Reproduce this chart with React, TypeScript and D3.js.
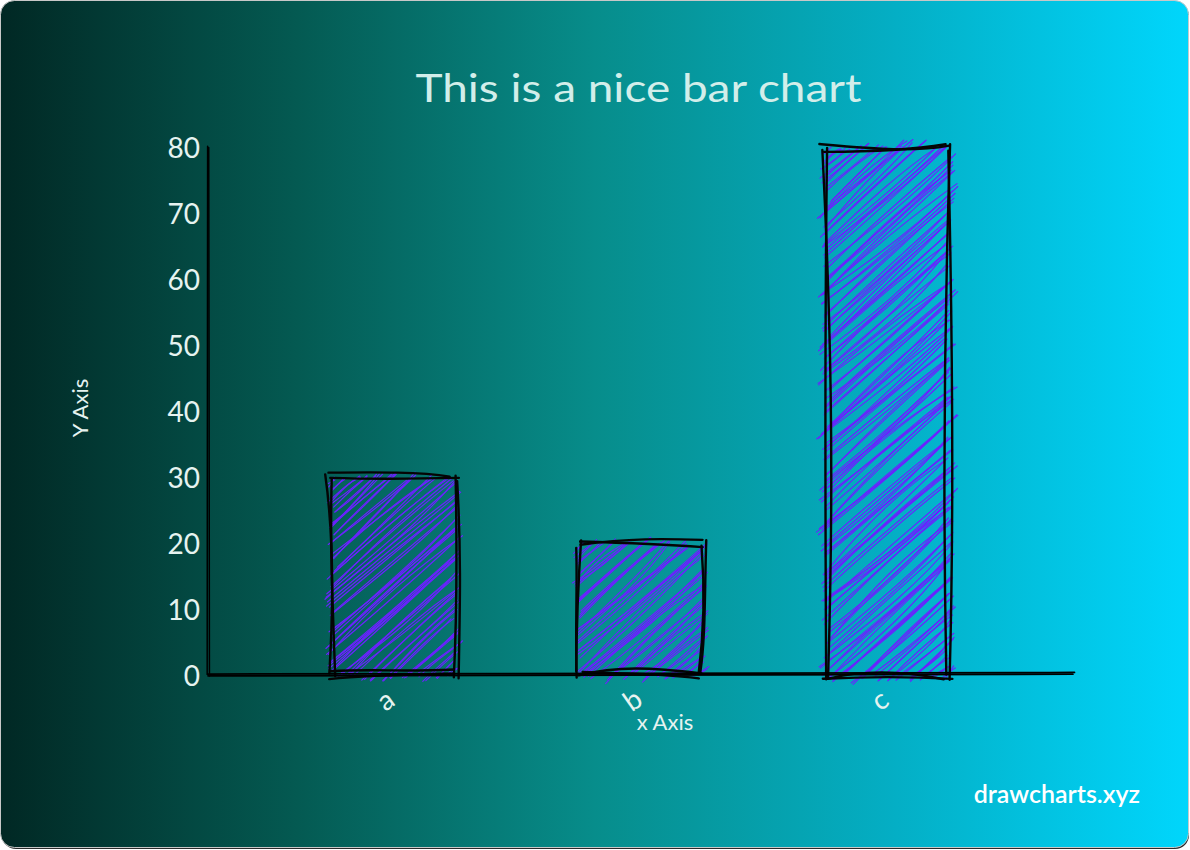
import React, { useMemo } from "react";
import * as d3 from "d3";

const categories = ["a", "b", "c"];
const values = [30, 20, 80];
const yTicks = [0, 10, 20, 30, 40, 50, 60, 70, 80];
const yDomain = [0, 80];
const title = "This is a nice bar chart";
const xLabel = "x Axis";
const yLabel = "Y Axis";
const watermark = "drawcharts.xyz";

const W = 1190;
const H = 850;
const plot = { left: 208, right: 1073, top: 148, bottom: 676 };
const FONT = "Lato, 'Open Sans', sans-serif";

function mulberry32(seed: number) {
  let a = seed;
  return function () {
    a |= 0;
    a = (a + 0x6d2b79f5) | 0;
    let t = Math.imul(a ^ (a >>> 15), 1 | a);
    t = (t + Math.imul(t ^ (t >>> 7), 61 | t)) ^ t;
    return ((t ^ (t >>> 14)) >>> 0) / 4294967296;
  };
}

function roughPass(
  x1: number, y1: number, x2: number, y2: number,
  rnd: () => number, off: number, bow: number
) {
  const j = () => (rnd() * 2 - 1) * off;
  const dx = x2 - x1, dy = y2 - y1;
  const len = Math.hypot(dx, dy) || 1;
  const nx = -dy / len, ny = dx / len;
  const b = (rnd() * 2 - 1) * bow;
  const sx = x1 + j(), sy = y1 + j();
  const ex = x2 + j(), ey = y2 + j();
  const c1x = x1 + dx * 0.4 + nx * b + j() * 0.4;
  const c1y = y1 + dy * 0.4 + ny * b + j() * 0.4;
  const c2x = x1 + dx * 0.7 + nx * b + j() * 0.4;
  const c2y = y1 + dy * 0.7 + ny * b + j() * 0.4;
  return `M${sx.toFixed(2)},${sy.toFixed(2)} C${c1x.toFixed(2)},${c1y.toFixed(2)} ${c2x.toFixed(2)},${c2y.toFixed(2)} ${ex.toFixed(2)},${ey.toFixed(2)}`;
}

function roughLine(
  x1: number, y1: number, x2: number, y2: number,
  rnd: () => number, off = 2, bowFrac = 0.01
) {
  const len = Math.hypot(x2 - x1, y2 - y1);
  const bow = Math.min(len * bowFrac, 12);
  return [
    roughPass(x1, y1, x2, y2, rnd, off, bow),
    roughPass(x1, y1, x2, y2, rnd, off * 1.7, bow * 1.5),
  ];
}

function hachure(
  x0: number, y0: number, x1: number, y1: number,
  rnd: () => number, gap: number, angleDeg: number
) {
  const t = (angleDeg * Math.PI) / 180;
  const nx = Math.sin(t), ny = Math.cos(t);
  const corners = [[x0, y0], [x1, y0], [x0, y1], [x1, y1]];
  const cs = corners.map(([x, y]) => nx * x + ny * y);
  const cmin = Math.min(...cs), cmax = Math.max(...cs);
  const paths: string[] = [];
  for (let c = cmin + gap / 2; c < cmax; c += gap) {
    const pts: number[][] = [];
    for (const X of [x0, x1]) {
      const y = (c - nx * X) / ny;
      if (y >= y0 - 1e-6 && y <= y1 + 1e-6) pts.push([X, y]);
    }
    for (const Y of [y0, y1]) {
      const x = (c - ny * Y) / nx;
      if (x >= x0 - 1e-6 && x <= x1 + 1e-6) pts.push([x, Y]);
    }
    if (pts.length < 2) continue;
    pts.sort((p, q) => p[0] - q[0]);
    const a = pts[0], b = pts[pts.length - 1];
    const L = Math.hypot(b[0] - a[0], b[1] - a[1]);
    if (L < 2) continue;
    const ext = () => (rnd() * 2 - 0.6) * 5;
    const dirx = Math.cos(t), diry = -Math.sin(t);
    const e1 = ext(), e2 = ext();
    const p1 = (rnd() * 2 - 1) * Math.min(5, L * 0.06);
    const p2 = (rnd() * 2 - 1) * Math.min(5, L * 0.06);
    const ax = a[0] - dirx * e1 + nx * p1, ay = a[1] - diry * e1 + ny * p1;
    const bx = b[0] + dirx * e2 + nx * p2, by = b[1] + diry * e2 + ny * p2;
    paths.push(...roughLine(ax, ay, bx, by, rnd, 1.8, 0.03));
  }
  return paths;
}

export default function App() {
  const x = d3.scaleBand<string>()
    .domain(categories)
    .range([plot.left, plot.right])
    .paddingInner(0.5)
    .paddingOuter(0.5);
  const y = d3.scaleLinear().domain(yDomain).range([plot.bottom, plot.top]);

  const drawn = useMemo(() => {
    const rnd = mulberry32(777);
    const bars = categories.map((cat, i) => {
      const bx0 = x(cat)!;
      const bx1 = bx0 + x.bandwidth();
      const by0 = y(values[i]);
      const by1 = y(0);
      const fill = hachure(bx0, by0, bx1, by1, rnd, 6, 41);
      const outline = [
        ...roughLine(bx0, by0, bx1, by0, rnd, 4, 0.03),
        ...roughLine(bx1, by0, bx1, by1, rnd, 4, 0.015),
        ...roughLine(bx1, by1, bx0, by1, rnd, 4, 0.05),
        ...roughLine(bx0, by1, bx0, by0, rnd, 4, 0.015),
      ];
      return { fill, outline };
    });
    const yAxis = roughLine(plot.left, y(yDomain[1]), plot.left + 1, y(0), rnd, 1.2, 0.002);
    const xAxis = roughLine(plot.left, y(0), plot.right, y(0) - 1.5, rnd, 1.2, 0.002);
    return { bars, yAxis, xAxis };
  }, []);

  return (
    <div style={{ width: W, height: H }}>
      <style>{`body{margin:0;background:#fff;}`}</style>
      <svg width={W} height={H} viewBox={`0 0 ${W} ${H}`} style={{ display: "block" }}>
        <defs>
          <linearGradient id="bg" x1="0" y1="0" x2="1" y2="0">
            <stop offset="0%" stopColor="#012824" />
            <stop offset="25%" stopColor="#045a52" />
            <stop offset="50%" stopColor="#078d8b" />
            <stop offset="75%" stopColor="#04aec4" />
            <stop offset="100%" stopColor="#00d6fc" />
          </linearGradient>
        </defs>
        <rect x={2} y={3} width={W - 3} height={H - 4} rx={14} fill="#2a2a2a" />
        <rect x={0.5} y={0.5} width={W - 2} height={H - 3} rx={14} fill="url(#bg)" stroke="#c8c8c8" strokeWidth={1} />

        <text
          x={(plot.left + plot.right) / 2 - 2}
          y={102}
          textAnchor="middle"
          fill="#d2eeea"
          fontFamily={FONT}
          fontSize={38}
          textLength={446}
          lengthAdjust="spacingAndGlyphs"
        >
          {title}
        </text>

        {/* bars */}
        {drawn.bars.map((b, i) => (
          <g key={categories[i]}>
            {b.fill.map((d, k) => (
              <path key={k} d={d} fill="none" stroke="#6a22ff" strokeWidth={1.15} strokeLinecap="round" />
            ))}
            {b.outline.map((d, k) => (
              <path key={k} d={d} fill="none" stroke="#050505" strokeWidth={2.4} strokeLinecap="round" />
            ))}
          </g>
        ))}

        {/* axes */}
        {drawn.yAxis.map((d, k) => (
          <path key={"y" + k} d={d} fill="none" stroke="#000" strokeWidth={1.5} strokeLinecap="round" />
        ))}
        {drawn.xAxis.map((d, k) => (
          <path key={"x" + k} d={d} fill="none" stroke="#000" strokeWidth={1.8} strokeLinecap="round" />
        ))}

        {/* y ticks */}
        {yTicks.map((t) => (
          <text
            key={t}
            x={200}
            y={y(t)}
            dy="0.36em"
            textAnchor="end"
            fill="#e6f3f0"
            fontFamily={FONT}
            fontSize={28}
          >
            {t}
          </text>
        ))}

        {/* x ticks */}
        {categories.map((c) => {
          const cx = x(c)! + x.bandwidth() / 2 - 8;
          const cy = y(0) + 24;
          return (
            <text
              key={c}
              x={cx}
              y={cy}
              transform={`rotate(-35 ${cx} ${cy})`}
              textAnchor="middle"
              dy="0.35em"
              fill="#e6f3f0"
              fontFamily={FONT}
              fontSize={28}
            >
              {c}
            </text>
          );
        })}

        <text x={665} y={730} textAnchor="middle" fill="#e6f3f0" fontFamily={FONT} fontSize={22}>
          {xLabel}
        </text>
        <text
          x={0}
          y={0}
          transform={`translate(88 408) rotate(-90)`}
          textAnchor="middle"
          fill="#e6f3f0"
          fontFamily={FONT}
          fontSize={22}
        >
          {yLabel}
        </text>

        <text
          x={1140}
          y={803}
          textAnchor="end"
          fill="#ffffff"
          fontFamily={FONT}
          fontWeight={600}
          fontSize={25}
        >
          {watermark}
        </text>
      </svg>
    </div>
  );
}
